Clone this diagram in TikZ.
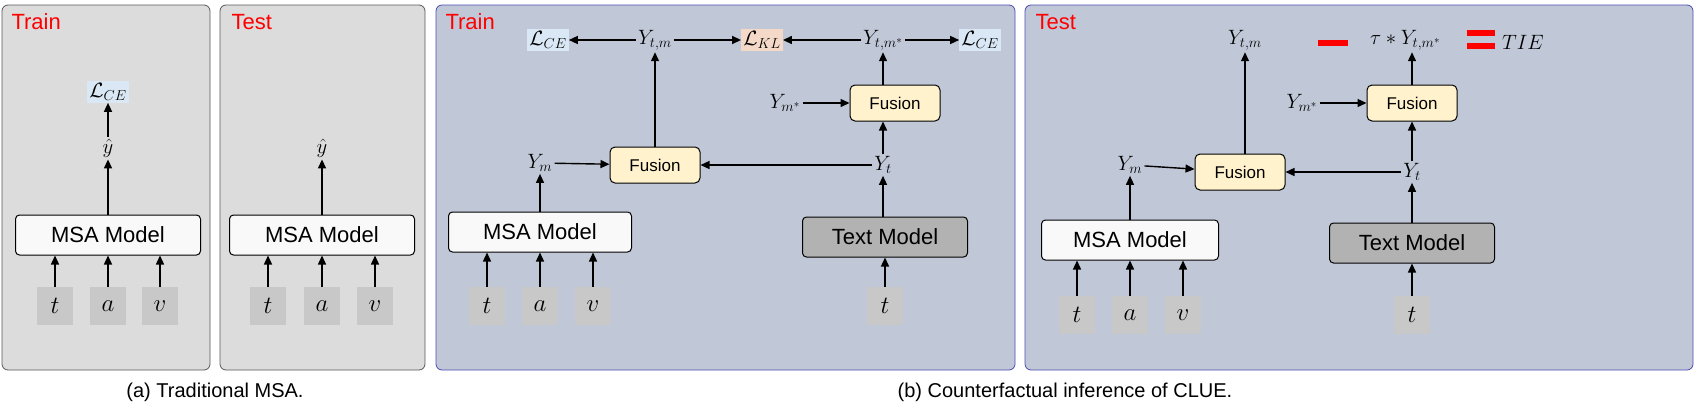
\documentclass[tikz,border=0pt]{standalone}
\usepackage{fontspec}
\setmainfont{Liberation Sans}
\usepackage{amsmath}
\usetikzlibrary{arrows.meta}
\definecolor{pga}{HTML}{DCDCDC}
\definecolor{pgb}{HTML}{C0C8D8}
\definecolor{inbox}{HTML}{C8C8C8}
\definecolor{fus}{HTML}{FFF2CC}
\definecolor{lce}{HTML}{DAE8F5}
\definecolor{lkl}{HTML}{F5D9C8}
\begin{document}
\begin{tikzpicture}[x=1pt,y=-1pt,
 panA/.style={draw=gray!70!black,fill=pga,rounded corners=6pt,line width=0.8pt},
 panB/.style={draw=blue!40!gray,fill=pgb,rounded corners=6pt,line width=0.8pt},
 ttl/.style={text=red,font=\fontsize{22}{24}\selectfont,anchor=west},
 inp/.style={fill=inbox,minimum width=36pt,minimum height=38pt,font=\fontsize{24}{26}\selectfont,inner sep=0pt},
 model/.style={draw,rounded corners=4pt,fill=white!95!gray,line width=1pt,minimum height=40pt,font=\fontsize{22}{24}\selectfont,inner sep=0pt},
 tmodel/.style={model,fill=gray!60},
 fusion/.style={draw,rounded corners=5pt,fill=fus,line width=1pt,minimum width=90pt,minimum height=36pt,font=\fontsize{17}{19}\selectfont,inner sep=0pt},
 lab/.style={font=\fontsize{22}{24}\selectfont,inner sep=2pt},
 arr/.style={-{Triangle[length=9pt,width=8pt]},line width=1.4pt},
 captxt/.style={font=\fontsize{20}{22}\selectfont}]
\useasboundingbox (0,0) rectangle (1697,410);
% panels
\draw[panA] (2,5) rectangle (210,370);
\draw[panA] (220,5) rectangle (425,370);
\draw[panB] (436,5) rectangle (1015,370);
\draw[panB] (1025,5) rectangle (1693,370);
\node[ttl] (tA1) at (8,22) {Train};
\node[ttl] (tA2) at (228,22) {Test};
\node[ttl] (tB1) at (442,22) {Train};
\node[ttl] (tB2) at (1032,22) {Test};
% (a) train
\node[lab,fill=lce] (a1L) at (108,92) {$\mathcal{L}_{CE}$};
\node[lab] (a1y) at (108,148) {$\hat{y}$};
\node[model,minimum width=185pt] (a1M) at (108,235) {MSA Model};
\node[inp] (a1t) at (55,306) {$t$};
\node[inp] (a1a) at (108,306) {$a$};
\node[inp] (a1v) at (160,306) {$v$};
\foreach \i in {a1t,a1a,a1v}{\draw[arr] (\i.north) -- (\i.north|-a1M.south);}
\draw[arr] (a1M) -- (a1y);
\draw[arr] (a1y) -- (a1L);
% (a) test
\node[lab] (a2y) at (322,148) {$\hat{y}$};
\node[model,minimum width=185pt] (a2M) at (322,235) {MSA Model};
\node[inp] (a2t) at (268,306) {$t$};
\node[inp] (a2a) at (322,306) {$a$};
\node[inp] (a2v) at (375,306) {$v$};
\foreach \i in {a2t,a2a,a2v}{\draw[arr] (\i.north) -- (\i.north|-a2M.south);}
\draw[arr] (a2M) -- (a2y);
% (b) train
\node[lab,fill=lce] (bL1) at (548,40) {$\mathcal{L}_{CE}$};
\node[lab] (bYtm) at (655,40) {$Y_{t,m}$};
\node[lab,fill=lkl] (bKL) at (762,40) {$\mathcal{L}_{KL}$};
\node[lab] (bYts) at (883,40) {$Y_{t,m^*}$};
\node[lab,fill=lce] (bL2) at (980,40) {$\mathcal{L}_{CE}$};
\node[fusion] (bF1) at (655,165) {Fusion};
\node[fusion] (bF2) at (895,103) {Fusion};
\node[lab] (bYm) at (540,163) {$Y_m$};
\node[lab] (bYms) at (785,103) {$Y_{m^*}$};
\node[lab] (bYt) at (883,165) {$Y_t$};
\node[model,minimum width=183pt] (bM) at (540,232) {MSA Model};
\node[tmodel,minimum width=165pt] (bT) at (885,237) {Text Model};
\node[inp] (bt) at (487,306) {$t$};
\node[inp] (ba) at (540,306) {$a$};
\node[inp] (bv) at (593,306) {$v$};
\node[inp] (bt2) at (885,306) {$t$};
\foreach \i in {bt,ba,bv}{\draw[arr] (\i.north) -- (\i.north|-bM.south);}
\draw[arr] (bt2) -- (bT);
\draw[arr] (bT.north-|bYt) -- (bYt);
\draw[arr] (bM.north-|bYm) -- (bYm);
\draw[arr] (bYm) -- (bF1);
\draw[arr] (bYt) -- (bF1);
\draw[arr] (bYt.north) -- (bYt.north|-bF2.south);
\draw[arr] (bYms) -- (bF2);
\draw[arr] (bF2.north-|bYts) -- (bYts);
\draw[arr] (bF1) -- (bYtm);
\draw[arr] (bYtm) -- (bL1);
\draw[arr] (bYtm) -- (bKL);
\draw[arr] (bYts) -- (bKL);
\draw[arr] (bYts) -- (bL2);
% (b) test
\node[lab] (cYtm) at (1245,40) {$Y_{t,m}$};
\node[lab,anchor=west] (cTau) at (1368,40) {$\tau*Y_{t,m^*}$};
\node[lab,anchor=west] (cTIE) at (1500,42) {$TIE$};
\fill[red] (1318,40) rectangle (1348,46);
\fill[red] (1467,30) rectangle (1495,36);
\fill[red] (1467,43) rectangle (1495,49);
\node[fusion] (cF1) at (1240,172) {Fusion};
\node[fusion] (cF2) at (1412,103) {Fusion};
\node[lab] (cYm) at (1130,165) {$Y_m$};
\node[lab] (cYms) at (1302,103) {$Y_{m^*}$};
\node[lab] (cYt) at (1412,172) {$Y_t$};
\node[model,minimum width=177pt] (cM) at (1130,240) {MSA Model};
\node[tmodel,minimum width=165pt] (cT) at (1412,243) {Text Model};
\node[inp] (ct) at (1077,315) {$t$};
\node[inp] (ca) at (1130,315) {$a$};
\node[inp] (cv) at (1183,315) {$v$};
\node[inp] (ct2) at (1412,315) {$t$};
\foreach \i in {ct,ca,cv}{\draw[arr] (\i.north) -- (\i.north|-cM.south);}
\draw[arr] (ct2) -- (cT);
\draw[arr] (cT) -- (cYt);
\draw[arr] (cM) -- (cYm);
\draw[arr] (cYm) -- (cF1);
\draw[arr] (cYt) -- (cF1);
\draw[arr] (cYt) -- (cF2);
\draw[arr] (cYms) -- (cF2);
\draw[arr] (cF2.north) -- (cF2.north|-cTau.south);
\draw[arr] (cF1.north-|cYtm) -- (cYtm);
% captions
\node[captxt] (capa) at (215,392) {(a) Traditional MSA.};
\node[captxt] (capb) at (1065,392) {(b) Counterfactual inference of CLUE.};
\end{tikzpicture}
\end{document}
